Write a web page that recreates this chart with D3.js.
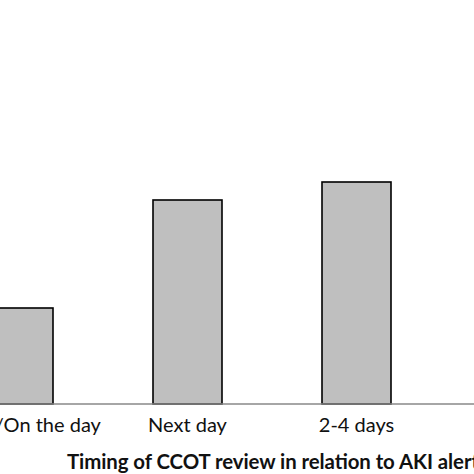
<!DOCTYPE html>
<html>
<head>
<meta charset="utf-8">
<script src="https://cdn.jsdelivr.net/npm/d3@7"></script>
<style>
  body { margin: 0; background: #fff; }
  svg { display: block; }
  text { font-family: Lato, "Open Sans", sans-serif; fill: #111; }
</style>
</head>
<body>
<div id="chart"></div>
<script>
// data (only the visible part of the chart)
var categories = ["Before/On the day", "Next day", "2-4 days"];
var counts = [16, 34, 37];
var xTitle = "Timing of CCOT review in relation to AKI alert";

var width = 474, height = 474;

var svg = d3.select("#chart")
  .append("svg")
  .attr("width", width)
  .attr("height", height);

// band scale: step 169px, bar 69px, first bar partly off the left edge
var x = d3.scaleBand()
  .domain(categories)
  .range([-66, 441])
  .paddingInner(100 / 169)
  .paddingOuter(50 / 169);

var y = d3.scaleLinear()
  .domain([0, 37])
  .range([404, 182]);

svg.selectAll(".bar")
  .data(counts)
  .enter()
  .append("rect")
  .attr("class", "bar")
  .attr("x", function(d, i) { return x(categories[i]); })
  .attr("y", function(d) { return y(d); })
  .attr("width", x.bandwidth())
  .attr("height", function(d) { return y(0) - y(d); })
  .style("fill", "#bfbfbf")
  .style("stroke", "#000")
  .style("stroke-width", 1.6);

// x axis: grey baseline, no ticks
var xAxis = svg.append("g")
  .attr("transform", "translate(0,404)")
  .call(d3.axisBottom(x).tickSize(0).tickPadding(14));

xAxis.select(".domain")
  .attr("d", "M-10,0H" + (width + 10))
  .style("stroke", "#888")
  .style("stroke-width", 1.5);

xAxis.selectAll("text")
  .style("font-family", "Lato, sans-serif")
  .style("font-size", "20px")
  .style("fill", "#111");

svg.append("text")
  .attr("x", 67)
  .attr("y", 469)
  .attr("textLength", 412)
  .attr("lengthAdjust", "spacing")
  .style("font-size", "20.4px")
  .style("font-weight", "bold")
  .text(xTitle);
</script>
</body>
</html>
